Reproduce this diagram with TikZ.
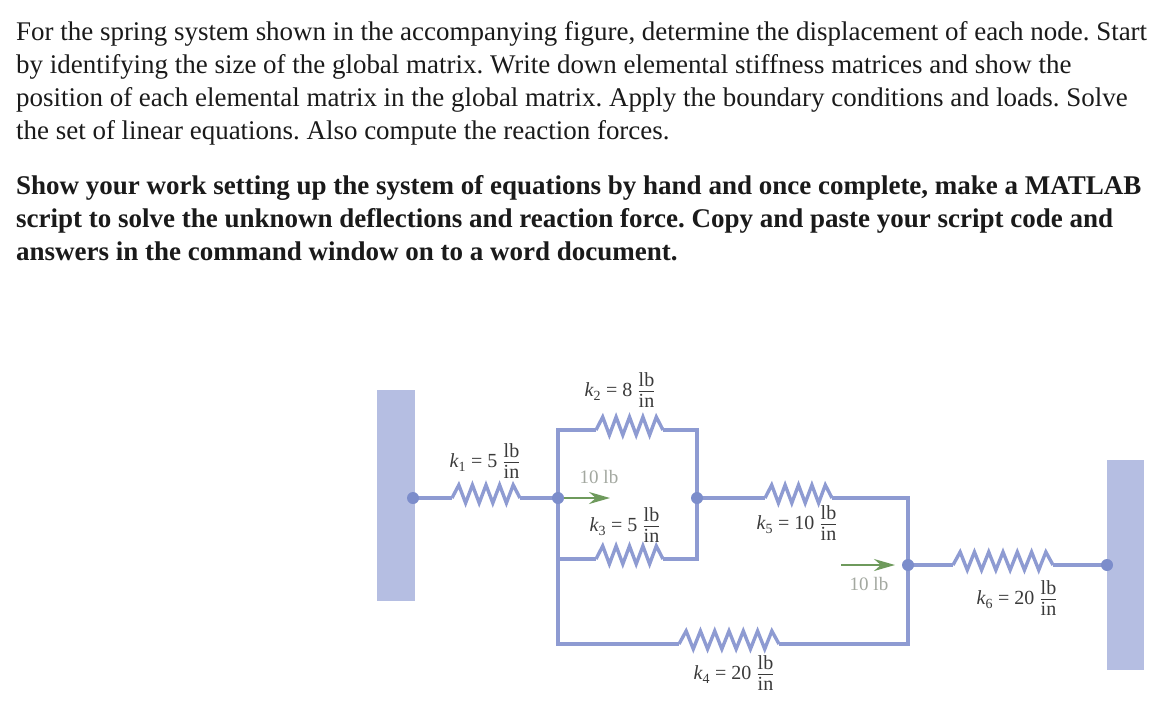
\documentclass[tikz,border=0pt]{standalone}
\usepackage{fontspec}
\usepackage{amsmath}
\setmainfont{Liberation Serif}
\usetikzlibrary{calc,arrows.meta}
\definecolor{wirec}{HTML}{8E9BD2}
\definecolor{wallc}{HTML}{B5BEE2}
\definecolor{dotc}{HTML}{7C8DCB}
\definecolor{arrowc}{HTML}{6E9A5C}
\definecolor{greytext}{HTML}{A3A8A0}
\definecolor{labelc}{HTML}{3A3A3A}
\definecolor{bodyc}{HTML}{1A1A1A}
\tikzset{
  wire/.style={draw=wirec,line width=3.4pt,line join=miter},
  wall/.style={fill=wallc,draw=none},
  joint/.style={circle,fill=dotc,draw=none,minimum size=12pt,inner sep=0pt},
  load/.style={draw=arrowc,line width=2pt,-{Stealth[length=21pt,width=12pt]}},
  loadtext/.style={text=greytext,font=\fontsize{19}{19}\selectfont,inner sep=0pt},
  klabel/.style={text=labelc,font=\fontsize{20}{20}\selectfont,inner sep=0pt},
  bodyline/.style={anchor=base west,inner sep=0pt,text=bodyc,font=\fontsize{26.95}{29}\selectfont},
  boldline/.style={bodyline,font=\fontsize{27}{29}\selectfont\bfseries}
}
\newcommand{\Spring}[3]{%
  \draw[wire] (#1) -- ($(#1)!{0.5/#3}!(#2)+(0,-13)$)
    \foreach \i in {2,...,#3}{
      -- ($(#1)!{(\i-1)/#3}!(#2)+(0,5)$)
      -- ($(#1)!{(\i-0.5)/#3}!(#2)+(0,-13)$)
    } -- (#2);}
\newcommand{\Ufont}{\fontsize{20}{20}\selectfont}
\newcommand{\KL}[2]{\textit{k}\textsubscript{#1} = #2 $\frac{\text{\Ufont\raisebox{2pt}{lb}}}{\text{\Ufont\raisebox{-3pt}{in}}}$}
\frenchspacing
\begin{document}
\begin{tikzpicture}[x=1pt,y=-1pt]
\useasboundingbox (0,0) rectangle (1158,715);
\fill[white] (0,0) rectangle (1158,715);
% text
\node[bodyline] (t1) at (16,40) {For the spring system shown in the accompanying figure, determine the displacement of each node. Start};
\node[bodyline] (t2) at (16,73) {by identifying the size of the global matrix. Write down elemental stiffness matrices and show the};
\node[bodyline] (t3) at (16,106) {position of each elemental matrix in the global matrix. Apply the boundary conditions and loads. Solve};
\node[bodyline] (t4) at (16,139) {the set of linear equations. Also compute the reaction forces.};
\node[boldline] (b1) at (16,194) {Show your work setting up the system of equations by hand and once complete, make a MATLAB};
\node[boldline] (b2) at (16,227) {script to solve the unknown deflections and reaction force. Copy and paste your script code and};
\node[boldline] (b3) at (16,260) {answers in the command window on to a word document.};
% walls
\path[wall] (377,390) rectangle (415,601);
\path[wall] (1107,460) rectangle (1144,670);
% named points
\coordinate (A) at (413,498);
\coordinate (B) at (558,498);
\coordinate (C) at (697,498);
\coordinate (D) at (908,565);
\coordinate (E) at (1107,565);
\coordinate (s1a) at (452,498); \coordinate (s1b) at (520,498);
\coordinate (s2a) at (596,430); \coordinate (s2b) at (663,430);
\coordinate (s3a) at (596,559); \coordinate (s3b) at (663,559);
\coordinate (s5a) at (765,498); \coordinate (s5b) at (832,498);
\coordinate (s4a) at (679,644); \coordinate (s4b) at (779,644);
\coordinate (s6a) at (953,565); \coordinate (s6b) at (1053,565);
\coordinate (f1) at (610,498);
\coordinate (f2s) at (841,565);
\coordinate (f2e) at (895,565);
% wires
\draw[wire] (A) -- (s1a);
\Spring{s1a}{s1b}{5}
\draw[wire] (s1b) -- (B);
\draw[wire] (s2a) -- (B |- s2a) -- (B |- s4a) -- (s4a);
\Spring{s2a}{s2b}{5}
\draw[wire] (s2b) -- (C |- s2b) -- (C |- s3b) -- (s3b);
\Spring{s3a}{s3b}{5}
\draw[wire] (B |- s3a) -- (s3a);
\draw[wire] (C) -- (s5a);
\Spring{s5a}{s5b}{5}
\draw[wire] (s5b) -- (D |- s5b) -- (D |- s4b) -- (s4b);
\Spring{s4a}{s4b}{7}
\draw[wire] (D) -- (s6a);
\Spring{s6a}{s6b}{7}
\draw[wire] (s6b) -- (E);
% joints
\node[joint] (nA) at (A) {};
\node[joint] (nB) at (B) {};
\node[joint] (nC) at (C) {};
\node[joint] (nD) at (D) {};
\node[joint] (nE) at (E) {};
% loads
\draw[load] (nB) -- (f1);
\draw[load] (f2s) -- (f2e);
\node[loadtext] (l1) at (599,477) {10 lb};
\node[loadtext] (l2) at (869,584) {10 lb};
% spring labels
\node[klabel] (k1) at (485,461) {\KL{1}{5}};
\node[klabel] (k2) at (620,390) {\KL{2}{8}};
\node[klabel] (k3) at (625,525) {\KL{3}{5}};
\node[klabel] (k5) at (797,523) {\KL{5}{10}};
\node[klabel] (k6) at (1017,598) {\KL{6}{20}};
\node[klabel] (k4) at (734,673) {\KL{4}{20}};
\end{tikzpicture}
\end{document}
